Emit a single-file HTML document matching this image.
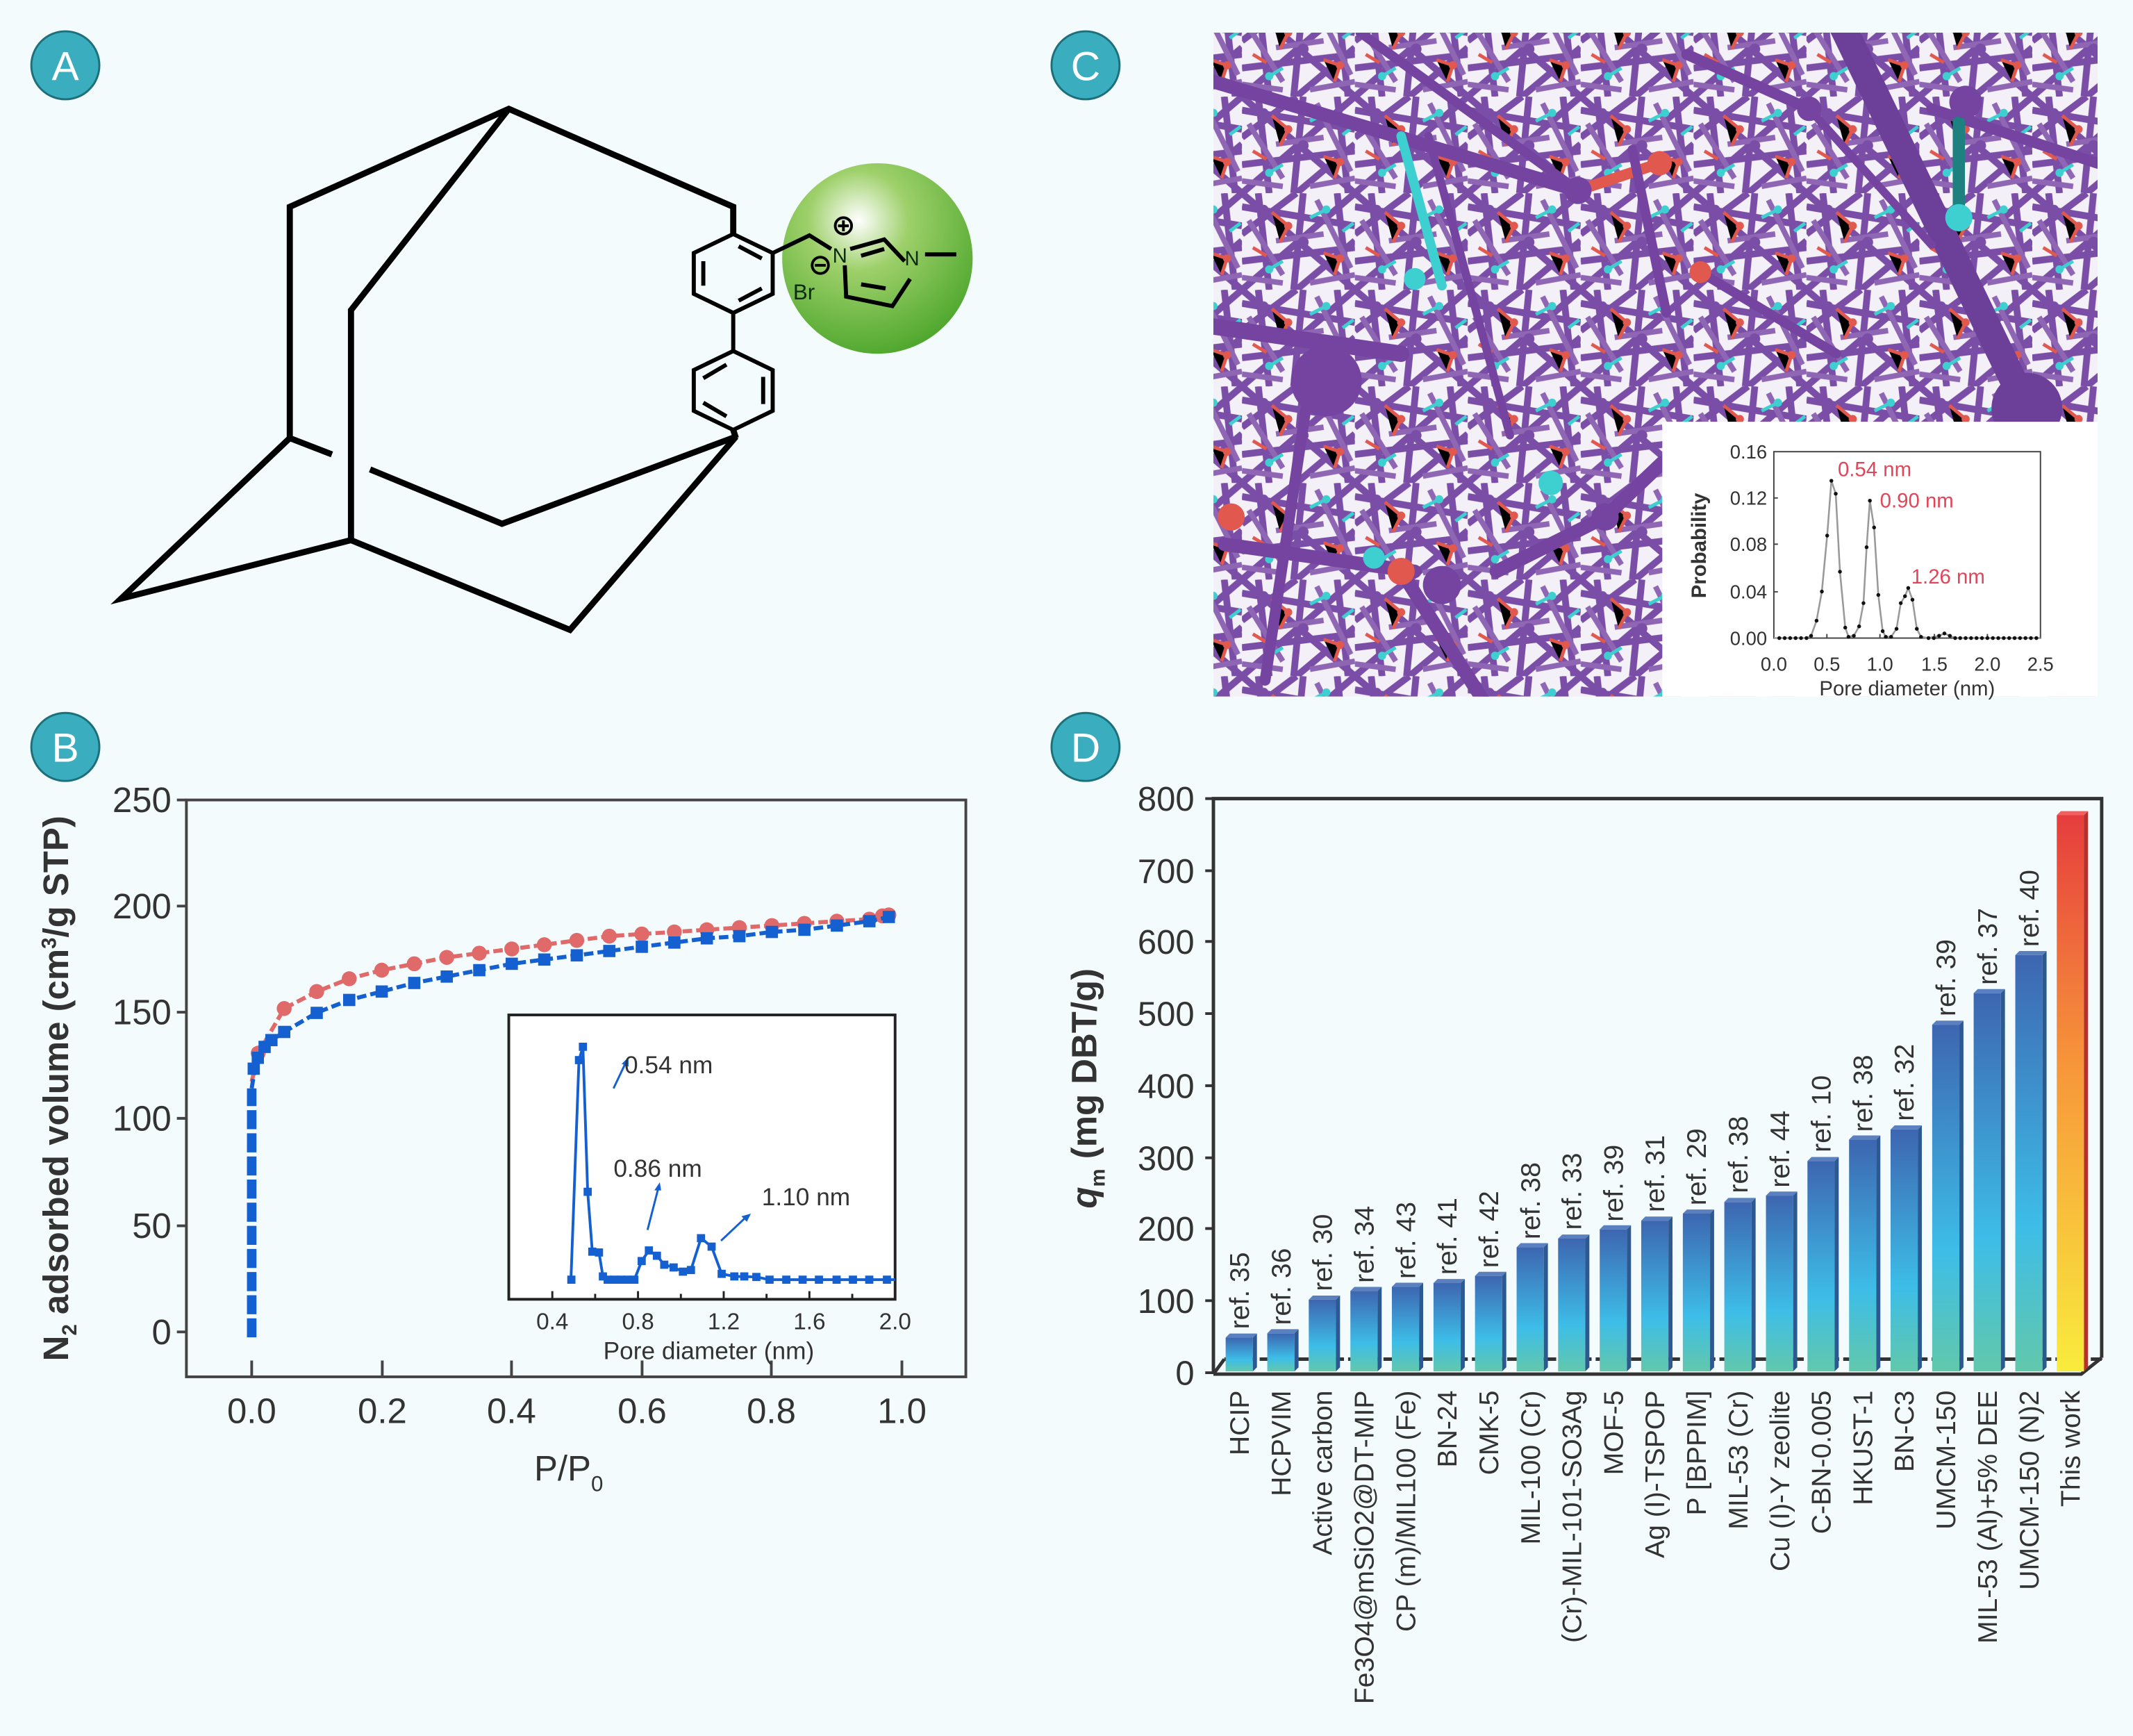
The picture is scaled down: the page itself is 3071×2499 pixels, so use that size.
<!DOCTYPE html>
<html><head><meta charset="utf-8"><style>
html,body{margin:0;padding:0;background:#f3fbfc;}
svg{display:block;font-family:"Liberation Sans",sans-serif;}
</style></head><body>
<svg width="3071" height="2499" viewBox="0 0 1568 1276" xmlns="http://www.w3.org/2000/svg">
<defs>
<radialGradient id="gball" cx="0.4" cy="0.3" r="0.75">
<stop offset="0" stop-color="#ffffff"/><stop offset="0.35" stop-color="#9ed06a"/><stop offset="1" stop-color="#4aa52a"/>
</radialGradient>
<linearGradient id="gbar" x1="0" y1="0" x2="0" y2="1">
<stop offset="0" stop-color="#3d66b0"/><stop offset="0.65" stop-color="#3dbde8"/><stop offset="1" stop-color="#62c8ac"/>
</linearGradient>
<linearGradient id="gred" x1="0" y1="0" x2="0" y2="1">
<stop offset="0" stop-color="#e63d3d"/><stop offset="0.45" stop-color="#f7963a"/><stop offset="1" stop-color="#f9ec3c"/>
</linearGradient>
<clipPath id="cclip"><rect x="892" y="24" width="650" height="488"/></clipPath>
<pattern id="mesh" width="83" height="71" patternUnits="userSpaceOnUse">
<rect width="83" height="71" fill="#f4f0f8"/>
<path d="M0 10 L83 24 M0 50 L83 40 M12 0 L20 71 M45 0 L38 71 M70 0 L78 71 M0 0 L83 71 M83 0 L0 71 M0 30 L40 0 M40 71 L83 35" stroke="#7a4ea6" stroke-width="5"/>
<path d="M5 20 L30 60 M55 5 L80 55 M25 35 L60 30 M0 62 L30 66 M50 66 L83 60" stroke="#8e66b4" stroke-width="4"/>
<path d="M22 14 L34 24 L28 36 M60 44 L72 48 L68 60 M8 40 L18 46" stroke="#e0584e" stroke-width="2.5"/>
<path d="M50 18 L62 12 M30 50 L20 56 M74 28 L82 22" stroke="#3ecfd0" stroke-width="2.5"/>
<circle cx="34" cy="24" r="3" fill="#e0584e"/><circle cx="62" cy="12" r="3" fill="#3ecfd0"/><circle cx="20" cy="56" r="3" fill="#3ecfd0"/><circle cx="72" cy="48" r="3" fill="#e0584e"/>
<circle cx="45" cy="36" r="4" fill="#7a4ea6"/><circle cx="16" cy="12" r="3.5" fill="#7a4ea6"/>
</pattern>
</defs>
<rect width="1568" height="1276" fill="#f3fbfc"/>

<!-- Circle labels -->
<g font-size="30" fill="#fff" text-anchor="middle">
<circle cx="48" cy="48" r="25" fill="#3aaebf" stroke="#1d6f7a" stroke-width="1.5"/><text x="48" y="59">A</text>
<circle cx="48" cy="549" r="25" fill="#3aaebf" stroke="#1d6f7a" stroke-width="1.5"/><text x="48" y="560">B</text>
<circle cx="798" cy="48" r="25" fill="#3aaebf" stroke="#1d6f7a" stroke-width="1.5"/><text x="798" y="59">C</text>
<circle cx="798" cy="549" r="25" fill="#3aaebf" stroke="#1d6f7a" stroke-width="1.5"/><text x="798" y="560">D</text>
</g>

<!-- Panel A -->
<g stroke="#000" stroke-width="4.5" fill="none" stroke-linejoin="miter">
<polyline points="213,322 213,152 374,80 539,152 539,172"/>
<polyline points="374,80 258,228 258,397 89,440 213,322 244,334"/>
<polyline points="258,397 419,463 541,321 369,385 272,345"/>
<line x1="539" y1="316" x2="541" y2="322"/>
</g>
<circle cx="645" cy="190" r="70" fill="url(#gball)"/>
<g stroke="#000" stroke-width="3" fill="none">
<polygon points="539,172 568,186 568,216 539,230 510,216 510,186"/>
<line x1="517" y1="192" x2="517" y2="210"/><line x1="543" y1="181" x2="560" y2="190"/><line x1="543" y1="221" x2="560" y2="212"/>
<line x1="539" y1="230" x2="539" y2="258"/>
<polygon points="539,258 568,272 568,302 539,316 510,302 510,272"/>
<line x1="517" y1="278" x2="534" y2="268"/><line x1="561" y1="277" x2="561" y2="297"/><line x1="517" y1="296" x2="534" y2="306"/>
<polyline points="568,186 595,173 611,183"/>
<polyline points="621,195 622,218 656,225 669,205"/>
<polyline points="625,183 650,176 665,192"/>
<line x1="633" y1="188" x2="650" y2="183"/><line x1="633" y1="209" x2="651" y2="212"/>
<line x1="680" y1="187" x2="703" y2="187"/>
</g>
<g font-size="15" fill="#0c2a0c">
<text x="612" y="193">N</text><text x="665" y="195">N</text>
<text x="583" y="220" font-size="16">Br</text>
<circle cx="620" cy="166" r="6" fill="none" stroke="#000" stroke-width="2"/><path d="M616 166h8M620 162v8" stroke="#000" stroke-width="2"/>
<circle cx="603" cy="195" r="6" fill="none" stroke="#000" stroke-width="2"/><path d="M599 195h8" stroke="#000" stroke-width="2"/>
</g>

<!-- Panel C -->
<g clip-path="url(#cclip)">
<rect x="892" y="24" width="650" height="488" fill="url(#mesh)"/>
<g stroke-linecap="round">
<line x1="892" y1="60" x2="1160" y2="140" stroke="#7444a0" stroke-width="10"/>
<line x1="1000" y1="24" x2="1160" y2="140" stroke="#7444a0" stroke-width="7"/>
<line x1="892" y1="240" x2="1030" y2="260" stroke="#7444a0" stroke-width="12"/>
<line x1="1350" y1="10" x2="1490" y2="300" stroke="#6c3f99" stroke-width="20"/>
<line x1="1160" y1="140" x2="1220" y2="120" stroke="#e0584e" stroke-width="8"/>
<line x1="1200" y1="110" x2="1225" y2="230" stroke="#7444a0" stroke-width="7"/>
<line x1="1050" y1="100" x2="1110" y2="320" stroke="#7444a0" stroke-width="6"/>
<line x1="1420" y1="80" x2="1542" y2="120" stroke="#7444a0" stroke-width="8"/>
<line x1="1440" y1="90" x2="1440" y2="160" stroke="#1f8080" stroke-width="9"/>
<line x1="900" y1="400" x2="1040" y2="420" stroke="#7444a0" stroke-width="10"/>
<line x1="1030" y1="420" x2="1100" y2="530" stroke="#7444a0" stroke-width="10"/>
<line x1="1180" y1="380" x2="1222" y2="340" stroke="#7444a0" stroke-width="10"/>
<line x1="1100" y1="420" x2="1180" y2="380" stroke="#7444a0" stroke-width="10"/>
<line x1="1030" y1="100" x2="1060" y2="210" stroke="#3ecfd0" stroke-width="7"/>
<line x1="1240" y1="40" x2="1330" y2="80" stroke="#7444a0" stroke-width="8"/>
<line x1="1330" y1="80" x2="1420" y2="180" stroke="#7444a0" stroke-width="6"/>
<line x1="930" y1="500" x2="960" y2="300" stroke="#7444a0" stroke-width="8"/>
<line x1="1250" y1="200" x2="1350" y2="260" stroke="#7444a0" stroke-width="7"/>
</g>
<circle cx="975" cy="280" r="26" fill="#7444a0"/>
<circle cx="1490" cy="300" r="26" fill="#6c3f99"/>
<circle cx="1445" cy="75" r="12" fill="#7444a0"/>
<circle cx="1160" cy="140" r="10" fill="#7444a0"/>
<circle cx="1220" cy="120" r="9" fill="#e0584e"/>
<circle cx="1440" cy="160" r="10" fill="#3ecfd0"/>
<circle cx="1040" cy="205" r="8" fill="#3ecfd0"/>
<circle cx="1060" cy="430" r="14" fill="#7444a0"/>
<circle cx="1030" cy="420" r="10" fill="#e0584e"/>
<circle cx="1180" cy="380" r="10" fill="#7444a0"/>
<circle cx="1140" cy="355" r="9" fill="#3ecfd0"/>
<circle cx="1010" cy="410" r="8" fill="#3ecfd0"/>
<circle cx="905" cy="380" r="10" fill="#e0584e"/>
<circle cx="1330" cy="80" r="9" fill="#7444a0"/>
<circle cx="1250" cy="200" r="8" fill="#e0584e"/>
</g>
<rect x="1222" y="310" width="320" height="202" fill="#fff"/>
<rect x="1304" y="332" width="196" height="137" fill="none" stroke="#444" stroke-width="1"/>
<g stroke="#444" stroke-width="1">
<path d="M1304 366h3M1304 400h3M1304 435h3M1343 469v-3M1382 469v-3M1422 469v-3M1461 469v-3"/>
</g>
<g font-size="14" fill="#333" text-anchor="end">
<text x="1299" y="337">0.16</text><text x="1299" y="371">0.12</text><text x="1299" y="405">0.08</text><text x="1299" y="440">0.04</text><text x="1299" y="474">0.00</text>
</g>
<g font-size="14" fill="#333" text-anchor="middle">
<text x="1304" y="493">0.0</text><text x="1343" y="493">0.5</text><text x="1382" y="493">1.0</text><text x="1422" y="493">1.5</text><text x="1461" y="493">2.0</text><text x="1500" y="493">2.5</text>
<text x="1402" y="511" font-size="15">Pore diameter (nm)</text>
<text transform="translate(1254,401) rotate(-90)" font-size="15" font-weight="bold">Probability</text>
</g>
<polyline fill="none" stroke="#999" stroke-width="1.3" points="1304,469 1328,469 1331.4,467.3 1335.4,456.2 1339.3,434.8 1343.2,393.7 1346.3,353.4 1349.5,362.9 1352.6,420.2 1356.5,461.3 1358.9,468.1 1362.8,467.3 1366.7,460.4 1369.9,443.3 1372.2,402.2 1374.6,368 1377.7,387.7 1380.8,437.3 1384,463.9 1386.3,468.1 1390.2,468.1 1394.2,462.2 1397.3,443.3 1400.4,438.2 1402.8,432.2 1405.9,440.8 1409.1,462.2 1412.2,468.1 1417.7,469 1425.5,467.3 1429.4,465.6 1433.4,467.3 1437.3,469 1500,469"/>
<g fill="#111">
<circle cx="1308" cy="469" r="1.4"/><circle cx="1312" cy="469" r="1.4"/><circle cx="1316" cy="469" r="1.4"/><circle cx="1320" cy="469" r="1.4"/><circle cx="1324" cy="469" r="1.4"/><circle cx="1328" cy="469" r="1.4"/>
<circle cx="1331.4" cy="467.3" r="1.4"/><circle cx="1335.4" cy="456.2" r="1.4"/><circle cx="1339.3" cy="434.8" r="1.4"/><circle cx="1343.2" cy="393.7" r="1.4"/><circle cx="1346.3" cy="353.4" r="1.4"/><circle cx="1349.5" cy="362.9" r="1.4"/><circle cx="1352.6" cy="420.2" r="1.4"/><circle cx="1356.5" cy="461.3" r="1.4"/><circle cx="1358.9" cy="468.1" r="1.4"/><circle cx="1362.8" cy="467.3" r="1.4"/><circle cx="1366.7" cy="460.4" r="1.4"/><circle cx="1369.9" cy="443.3" r="1.4"/><circle cx="1372.2" cy="402.2" r="1.4"/><circle cx="1374.6" cy="368" r="1.4"/><circle cx="1377.7" cy="387.7" r="1.4"/><circle cx="1380.8" cy="437.3" r="1.4"/><circle cx="1384" cy="463.9" r="1.4"/><circle cx="1386.3" cy="468.1" r="1.4"/><circle cx="1390.2" cy="468.1" r="1.4"/><circle cx="1394.2" cy="462.2" r="1.4"/><circle cx="1397.3" cy="443.3" r="1.4"/><circle cx="1400.4" cy="438.2" r="1.4"/><circle cx="1402.8" cy="432.2" r="1.4"/><circle cx="1405.9" cy="440.8" r="1.4"/><circle cx="1409.1" cy="462.2" r="1.4"/><circle cx="1412.2" cy="468.1" r="1.4"/><circle cx="1417.7" cy="469" r="1.4"/><circle cx="1421.6" cy="469" r="1.4"/><circle cx="1425.5" cy="467.3" r="1.4"/><circle cx="1429.4" cy="465.6" r="1.4"/><circle cx="1433.4" cy="467.3" r="1.4"/><circle cx="1437.3" cy="469" r="1.4"/>
<circle cx="1441" cy="469" r="1.4"/><circle cx="1445" cy="469" r="1.4"/><circle cx="1449" cy="469" r="1.4"/><circle cx="1453" cy="469" r="1.4"/><circle cx="1457" cy="469" r="1.4"/><circle cx="1461" cy="469" r="1.4"/><circle cx="1465" cy="469" r="1.4"/><circle cx="1469" cy="469" r="1.4"/><circle cx="1473" cy="469" r="1.4"/><circle cx="1477" cy="469" r="1.4"/><circle cx="1481" cy="469" r="1.4"/><circle cx="1485" cy="469" r="1.4"/><circle cx="1489" cy="469" r="1.4"/><circle cx="1493" cy="469" r="1.4"/><circle cx="1497" cy="469" r="1.4"/>
</g>
<g font-size="15" fill="#e0455a">
<text x="1351" y="350">0.54 nm</text><text x="1382" y="373">0.90 nm</text><text x="1405" y="429">1.26 nm</text>
</g>

<!-- Panel B -->
<rect x="137" y="588" width="573" height="424" fill="none" stroke="#444" stroke-width="2"/>
<g stroke="#444" stroke-width="2">
<path d="M130 588h7M130 666h7M130 744h7M130 822h7M130 901h7M130 979h7"/>
<path d="M185 1012v-12M281 1012v-12M376 1012v-12M472 1012v-12M567 1012v-12M663 1012v-12"/>
</g>
<g font-size="26" fill="#333" text-anchor="end">
<text x="126" y="597">250</text><text x="126" y="675">200</text><text x="126" y="753">150</text><text x="126" y="831">100</text><text x="126" y="910">50</text><text x="126" y="988">0</text>
</g>
<g font-size="26" fill="#333" text-anchor="middle">
<text x="185" y="1046">0.0</text><text x="281" y="1046">0.2</text><text x="376" y="1046">0.4</text><text x="472" y="1046">0.6</text><text x="567" y="1046">0.8</text><text x="663" y="1046">1.0</text>
<text x="418" y="1088">P/P<tspan font-size="16" dy="8">0</tspan></text>
<text transform="translate(50,800) rotate(-90)" font-size="26" font-weight="bold">N<tspan font-size="15" dy="6">2</tspan><tspan dy="-6"> adsorbed volume (cm</tspan><tspan font-size="15" dy="-9">3</tspan><tspan dy="9">/g STP)</tspan></text>
</g>
<polyline fill="none" stroke="#e06a6a" stroke-width="3" stroke-dasharray="7,3" points="185,795 189.8,774.1 208.9,741.3 232.8,728.8 256.7,719.4 280.6,713.1 304.5,708.4 328.4,703.7 352.3,700.6 376.2,697.5 400.1,694.4 424,691.2 447.9,688.1 471.8,686.5 495.7,685 519.6,683.4 543.5,681.8 567.4,680.3 591.3,678.7 615.2,677.1 639.1,675.6 648.7,673.2 653.4,672.5"/>
<g fill="#e06a6a">
<circle cx="189.8" cy="774.1" r="5.5"/><circle cx="208.9" cy="741.3" r="5.5"/><circle cx="232.8" cy="728.8" r="5.5"/><circle cx="256.7" cy="719.4" r="5.5"/><circle cx="280.6" cy="713.1" r="5.5"/><circle cx="304.5" cy="708.4" r="5.5"/><circle cx="328.4" cy="703.7" r="5.5"/><circle cx="352.3" cy="700.6" r="5.5"/><circle cx="376.2" cy="697.5" r="5.5"/><circle cx="400.1" cy="694.4" r="5.5"/><circle cx="424" cy="691.2" r="5.5"/><circle cx="447.9" cy="688.1" r="5.5"/><circle cx="471.8" cy="686.5" r="5.5"/><circle cx="495.7" cy="685" r="5.5"/><circle cx="519.6" cy="683.4" r="5.5"/><circle cx="543.5" cy="681.8" r="5.5"/><circle cx="567.4" cy="680.3" r="5.5"/><circle cx="591.3" cy="678.7" r="5.5"/><circle cx="615.2" cy="677.1" r="5.5"/><circle cx="639.1" cy="675.6" r="5.5"/><circle cx="648.7" cy="673.2" r="5.5"/><circle cx="653.4" cy="672.5" r="5.5"/>
</g>
<line x1="185" y1="983" x2="185" y2="800" stroke="#1560d0" stroke-width="7" stroke-dasharray="14,3"/>
<polyline fill="none" stroke="#1560d0" stroke-width="3" stroke-dasharray="7,3" points="185,800 187.4,785 189.8,777.2 194.6,769.4 199.3,764.7 208.9,758.5 232.8,744.4 256.7,735 280.6,728.8 304.5,722.5 328.4,717.8 352.3,713.1 376.2,708.4 400.1,705.3 424,702.2 447.9,699 471.8,695.9 495.7,692.8 519.6,689.7 543.5,688.1 567.4,685 591.3,683.4 615.2,680.3 639.1,677.1 653.4,674"/>
<g fill="#1560d0">
<rect x="182" y="781" width="9" height="9"/><rect x="185" y="773" width="9" height="9"/><rect x="190" y="765" width="9" height="9"/><rect x="195" y="760" width="9" height="9"/><rect x="204.4" y="754" width="9" height="9"/><rect x="228.3" y="740" width="9" height="9"/><rect x="252.2" y="730.5" width="9" height="9"/><rect x="276.1" y="724.3" width="9" height="9"/><rect x="300" y="718" width="9" height="9"/><rect x="323.9" y="713.3" width="9" height="9"/><rect x="347.8" y="708.6" width="9" height="9"/><rect x="371.7" y="703.9" width="9" height="9"/><rect x="395.6" y="700.8" width="9" height="9"/><rect x="419.5" y="697.7" width="9" height="9"/><rect x="443.4" y="694.5" width="9" height="9"/><rect x="467.3" y="691.4" width="9" height="9"/><rect x="491.2" y="688.3" width="9" height="9"/><rect x="515.1" y="685.2" width="9" height="9"/><rect x="539" y="683.6" width="9" height="9"/><rect x="562.9" y="680.5" width="9" height="9"/><rect x="586.8" y="678.9" width="9" height="9"/><rect x="610.7" y="675.8" width="9" height="9"/><rect x="634.6" y="672.6" width="9" height="9"/><rect x="648.9" y="669.5" width="9" height="9"/>
</g>
<!-- inset B -->
<rect x="374" y="746" width="284" height="209" fill="#fff" stroke="#222" stroke-width="2"/>
<g stroke="#222" stroke-width="1.5">
<path d="M406 955v-6M437.5 955v-4M469 955v-6M500.5 955v-4M532 955v-6M563.5 955v-4M595 955v-6M626.5 955v-4"/>
</g>
<g font-size="17" fill="#333" text-anchor="middle">
<text x="406" y="977">0.4</text><text x="469" y="977">0.8</text><text x="532" y="977">1.2</text><text x="595" y="977">1.6</text><text x="658" y="977">2.0</text>
<text x="521" y="999" font-size="18">Pore diameter (nm)</text>
</g>
<polyline fill="none" stroke="#1560d0" stroke-width="2" points="419.7,940.6 425.6,779.2 428.5,769.4 432,876.1 435.4,919.9 440.3,920.6 443.2,938.2 446.7,940.6 466.3,940.6 471.7,926.9 477,919.1 482.9,923 488.3,929.6 495.2,931.6 502,934.7 507.9,933.5 515.3,910.1 523.1,916.3 530.5,936.3 539.8,938.2 556,938.6 565.7,940.6 658,940.6"/>
<g fill="#1560d0">
<rect x="417" y="937.6" width="6" height="6"/><rect x="422.6" y="776.2" width="6" height="6"/><rect x="425.5" y="766.4" width="6" height="6"/><rect x="429" y="873" width="6" height="6"/><rect x="432.4" y="917" width="6" height="6"/><rect x="437.3" y="917.6" width="6" height="6"/><rect x="440.2" y="935.2" width="6" height="6"/><rect x="443.7" y="937.6" width="6" height="6"/><rect x="448.6" y="937.6" width="6" height="6"/><rect x="453.5" y="937.6" width="6" height="6"/><rect x="458.4" y="937.6" width="6" height="6"/><rect x="463.3" y="937.6" width="6" height="6"/><rect x="468.7" y="923.9" width="6" height="6"/><rect x="474" y="916.1" width="6" height="6"/><rect x="479.9" y="920" width="6" height="6"/><rect x="485.3" y="926.6" width="6" height="6"/><rect x="492.2" y="928.6" width="6" height="6"/><rect x="499" y="931.7" width="6" height="6"/><rect x="504.9" y="930.5" width="6" height="6"/><rect x="512.3" y="907.1" width="6" height="6"/><rect x="520.1" y="913.3" width="6" height="6"/><rect x="527.5" y="933.3" width="6" height="6"/><rect x="536.8" y="935.2" width="6" height="6"/><rect x="544.1" y="935.2" width="6" height="6"/><rect x="553" y="935.6" width="6" height="6"/><rect x="562.7" y="937.6" width="6" height="6"/><rect x="575" y="937.6" width="6" height="6"/><rect x="587" y="937.6" width="6" height="6"/><rect x="599" y="937.6" width="6" height="6"/><rect x="612" y="937.6" width="6" height="6"/><rect x="624" y="937.6" width="6" height="6"/><rect x="636" y="937.6" width="6" height="6"/><rect x="649" y="937.6" width="6" height="6"/>
</g>
<g stroke="#1560d0" stroke-width="1.5" fill="#1560d0">
<line x1="451" y1="800" x2="460" y2="781"/><polygon points="462,777 457,782 462,784" stroke="none"/>
<line x1="476" y1="904" x2="484" y2="873"/><polygon points="485,869 481,875 486,875" stroke="none"/>
<line x1="530" y1="912" x2="548" y2="895"/><polygon points="552,892 545,894 549,898" stroke="none"/>
</g>
<g font-size="18" fill="#333">
<text x="459" y="789">0.54 nm</text><text x="451" y="865">0.86 nm</text><text x="560" y="886">1.10 nm</text>
</g>

<!-- Panel D -->
<g stroke="#333" stroke-width="2.5" fill="none">
<polyline points="892,1010 892,587 1545,587 1545,998"/>
<polyline points="892,1010 1530,1010 1545,998"/>
<line x1="892" y1="1010" x2="900" y2="999"/>
<line x1="900" y1="999" x2="1545" y2="999" stroke-dasharray="10,3"/>
</g>
<g stroke="#333" stroke-width="2">
<path d="M886 587h6M886 640h6M886 692h6M886 745h6M886 798h6M886 851h6M886 903h6M886 956h6M886 1009h6"/>
</g>
<g font-size="25" fill="#333" text-anchor="end">
<text x="878" y="596">800</text><text x="878" y="649">700</text><text x="878" y="701">600</text><text x="878" y="754">500</text><text x="878" y="807">400</text><text x="878" y="860">300</text><text x="878" y="912">200</text><text x="878" y="965">100</text><text x="878" y="1018">0</text>
</g>
<text transform="translate(806,800) rotate(-90)" font-size="26" font-weight="bold" fill="#333" text-anchor="middle"><tspan font-style="italic">q</tspan><tspan font-size="15" dy="6">m</tspan><tspan dy="-6"> (mg DBT/g)</tspan></text>

<g>
<g><rect x="901" y="983.2" width="20" height="24.8" fill="url(#gbar)"/><polygon points="921,983.2 924,980.2 924,1005 921,1008" fill="#2c5a90"/><polygon points="901,983.2 904,980.2 924,980.2 921,983.2" fill="#5a80c0"/></g>
<g><rect x="931.6" y="980" width="20" height="28" fill="url(#gbar)"/><polygon points="951.6,980 954.6,977 954.6,1005 951.6,1008" fill="#2c5a90"/><polygon points="931.6,980 934.6,977 954.6,977 951.6,980" fill="#5a80c0"/></g>
<g><rect x="962.1" y="955.3" width="20" height="52.7" fill="url(#gbar)"/><polygon points="982.1,955.3 985.1,952.3 985.1,1005 982.1,1008" fill="#2c5a90"/><polygon points="962.1,955.3 965.1,952.3 985.1,952.3 982.1,955.3" fill="#5a80c0"/></g>
<g><rect x="992.7" y="948.9" width="20" height="59.1" fill="url(#gbar)"/><polygon points="1012.7,948.9 1015.7,945.9 1015.7,1005 1012.7,1008" fill="#2c5a90"/><polygon points="992.7,948.9 995.7,945.9 1015.7,945.9 1012.7,948.9" fill="#5a80c0"/></g>
<g><rect x="1023.2" y="945.8" width="20" height="62.2" fill="url(#gbar)"/><polygon points="1043.2,945.8 1046.2,942.8 1046.2,1005 1043.2,1008" fill="#2c5a90"/><polygon points="1023.2,945.8 1026.2,942.8 1046.2,942.8 1043.2,945.8" fill="#5a80c0"/></g>
<g><rect x="1053.8" y="943.1" width="20" height="64.9" fill="url(#gbar)"/><polygon points="1073.8,943.1 1076.8,940.1 1076.8,1005 1073.8,1008" fill="#2c5a90"/><polygon points="1053.8,943.1 1056.8,940.1 1076.8,940.1 1073.8,943.1" fill="#5a80c0"/></g>
<g><rect x="1084.3" y="937.8" width="20" height="70.2" fill="url(#gbar)"/><polygon points="1104.3,937.8 1107.3,934.8 1107.3,1005 1104.3,1008" fill="#2c5a90"/><polygon points="1084.3,937.8 1087.3,934.8 1107.3,934.8 1104.3,937.8" fill="#5a80c0"/></g>
<g><rect x="1114.9" y="916.7" width="20" height="91.3" fill="url(#gbar)"/><polygon points="1134.9,916.7 1137.9,913.7 1137.9,1005 1134.9,1008" fill="#2c5a90"/><polygon points="1114.9,916.7 1117.9,913.7 1137.9,913.7 1134.9,916.7" fill="#5a80c0"/></g>
<g><rect x="1145.4" y="910.4" width="20" height="97.6" fill="url(#gbar)"/><polygon points="1165.4,910.4 1168.4,907.4 1168.4,1005 1165.4,1008" fill="#2c5a90"/><polygon points="1145.4,910.4 1148.4,907.4 1168.4,907.4 1165.4,910.4" fill="#5a80c0"/></g>
<g><rect x="1176" y="903.6" width="20" height="104.4" fill="url(#gbar)"/><polygon points="1196,903.6 1199,900.6 1199,1005 1196,1008" fill="#2c5a90"/><polygon points="1176,903.6 1179,900.6 1199,900.6 1196,903.6" fill="#5a80c0"/></g>
<g><rect x="1206.5" y="897.2" width="20" height="110.8" fill="url(#gbar)"/><polygon points="1226.5,897.2 1229.5,894.2 1229.5,1005 1226.5,1008" fill="#2c5a90"/><polygon points="1206.5,897.2 1209.5,894.2 1229.5,894.2 1226.5,897.2" fill="#5a80c0"/></g>
<g><rect x="1237.1" y="892" width="20" height="116" fill="url(#gbar)"/><polygon points="1257.1,892 1260.1,889 1260.1,1005 1257.1,1008" fill="#2c5a90"/><polygon points="1237.1,892 1240.1,889 1260.1,889 1257.1,892" fill="#5a80c0"/></g>
<g><rect x="1267.6" y="883.5" width="20" height="124.5" fill="url(#gbar)"/><polygon points="1287.6,883.5 1290.6,880.5 1290.6,1005 1287.6,1008" fill="#2c5a90"/><polygon points="1267.6,883.5 1270.6,880.5 1290.6,880.5 1287.6,883.5" fill="#5a80c0"/></g>
<g><rect x="1298.2" y="878.8" width="20" height="129.2" fill="url(#gbar)"/><polygon points="1318.2,878.8 1321.2,875.8 1321.2,1005 1318.2,1008" fill="#2c5a90"/><polygon points="1298.2,878.8 1301.2,875.8 1321.2,875.8 1318.2,878.8" fill="#5a80c0"/></g>
<g><rect x="1328.7" y="853.4" width="20" height="154.6" fill="url(#gbar)"/><polygon points="1348.7,853.4 1351.7,850.4 1351.7,1005 1348.7,1008" fill="#2c5a90"/><polygon points="1328.7,853.4 1331.7,850.4 1351.7,850.4 1348.7,853.4" fill="#5a80c0"/></g>
<g><rect x="1359.3" y="837.6" width="20" height="170.4" fill="url(#gbar)"/><polygon points="1379.3,837.6 1382.3,834.6 1382.3,1005 1379.3,1008" fill="#2c5a90"/><polygon points="1359.3,837.6 1362.3,834.6 1382.3,834.6 1379.3,837.6" fill="#5a80c0"/></g>
<g><rect x="1389.8" y="830.2" width="20" height="177.8" fill="url(#gbar)"/><polygon points="1409.8,830.2 1412.8,827.2 1412.8,1005 1409.8,1008" fill="#2c5a90"/><polygon points="1389.8,830.2 1392.8,827.2 1412.8,827.2 1409.8,830.2" fill="#5a80c0"/></g>
<g><rect x="1420.4" y="753.2" width="20" height="254.8" fill="url(#gbar)"/><polygon points="1440.4,753.2 1443.4,750.2 1443.4,1005 1440.4,1008" fill="#2c5a90"/><polygon points="1420.4,753.2 1423.4,750.2 1443.4,750.2 1440.4,753.2" fill="#5a80c0"/></g>
<g><rect x="1450.9" y="730" width="20" height="278" fill="url(#gbar)"/><polygon points="1470.9,730 1473.9,727 1473.9,1005 1470.9,1008" fill="#2c5a90"/><polygon points="1450.9,730 1453.9,727 1473.9,727 1470.9,730" fill="#5a80c0"/></g>
<g><rect x="1481.5" y="702" width="20" height="306" fill="url(#gbar)"/><polygon points="1501.5,702 1504.5,699 1504.5,1005 1501.5,1008" fill="#2c5a90"/><polygon points="1481.5,702 1484.5,699 1504.5,699 1501.5,702" fill="#5a80c0"/></g>
<g><rect x="1512" y="599.2" width="20" height="408.8" fill="url(#gred)"/><polygon points="1532,599.2 1535,596.2 1535,1005 1532,1008" fill="#b8302c"/><polygon points="1512,599.2 1515,596.2 1535,596.2 1532,599.2" fill="#f06060"/></g>
</g>

<g font-size="20" fill="#333">
<text transform="translate(918,977) rotate(-90)">ref. 35</text>
<text transform="translate(948.6,974) rotate(-90)">ref. 36</text>
<text transform="translate(979.1,949) rotate(-90)">ref. 30</text>
<text transform="translate(1009.7,943) rotate(-90)">ref. 34</text>
<text transform="translate(1040.2,940) rotate(-90)">ref. 43</text>
<text transform="translate(1070.8,937) rotate(-90)">ref. 41</text>
<text transform="translate(1101.3,932) rotate(-90)">ref. 42</text>
<text transform="translate(1131.9,911) rotate(-90)">ref. 38</text>
<text transform="translate(1162.4,904) rotate(-90)">ref. 33</text>
<text transform="translate(1193,898) rotate(-90)">ref. 39</text>
<text transform="translate(1223.5,891) rotate(-90)">ref. 31</text>
<text transform="translate(1254.1,886) rotate(-90)">ref. 29</text>
<text transform="translate(1284.6,877) rotate(-90)">ref. 38</text>
<text transform="translate(1315.2,873) rotate(-90)">ref. 44</text>
<text transform="translate(1345.7,847) rotate(-90)">ref. 10</text>
<text transform="translate(1376.3,832) rotate(-90)">ref. 38</text>
<text transform="translate(1406.8,824) rotate(-90)">ref. 32</text>
<text transform="translate(1437.4,747) rotate(-90)">ref. 39</text>
<text transform="translate(1467.9,724) rotate(-90)">ref. 37</text>
<text transform="translate(1498.5,696) rotate(-90)">ref. 40</text>
</g>
<g font-size="20" fill="#333" text-anchor="end">
<text transform="translate(918,1022) rotate(-90)">HCIP</text>
<text transform="translate(948.6,1022) rotate(-90)">HCPVIM</text>
<text transform="translate(979.1,1022) rotate(-90)">Active carbon</text>
<text transform="translate(1009.7,1022) rotate(-90)">Fe3O4@mSiO2@DT-MIP</text>
<text transform="translate(1040.2,1022) rotate(-90)">CP (m)/MIL100 (Fe)</text>
<text transform="translate(1070.8,1022) rotate(-90)">BN-24</text>
<text transform="translate(1101.3,1022) rotate(-90)">CMK-5</text>
<text transform="translate(1131.9,1022) rotate(-90)">MIL-100 (Cr)</text>
<text transform="translate(1162.4,1022) rotate(-90)">(Cr)-MIL-101-SO3Ag</text>
<text transform="translate(1193,1022) rotate(-90)">MOF-5</text>
<text transform="translate(1223.5,1022) rotate(-90)">Ag (I)-TSPOP</text>
<text transform="translate(1254.1,1022) rotate(-90)">P [BPPIM]</text>
<text transform="translate(1284.6,1022) rotate(-90)">MIL-53 (Cr)</text>
<text transform="translate(1315.2,1022) rotate(-90)">Cu (I)-Y zeolite</text>
<text transform="translate(1345.7,1022) rotate(-90)">C-BN-0.005</text>
<text transform="translate(1376.3,1022) rotate(-90)">HKUST-1</text>
<text transform="translate(1406.8,1022) rotate(-90)">BN-C3</text>
<text transform="translate(1437.4,1022) rotate(-90)">UMCM-150</text>
<text transform="translate(1467.9,1022) rotate(-90)">MIL-53 (Al)+5% DEE</text>
<text transform="translate(1498.5,1022) rotate(-90)">UMCM-150 (N)2</text>
<text transform="translate(1529,1022) rotate(-90)">This work</text>
</g>
</svg>
</body></html>
